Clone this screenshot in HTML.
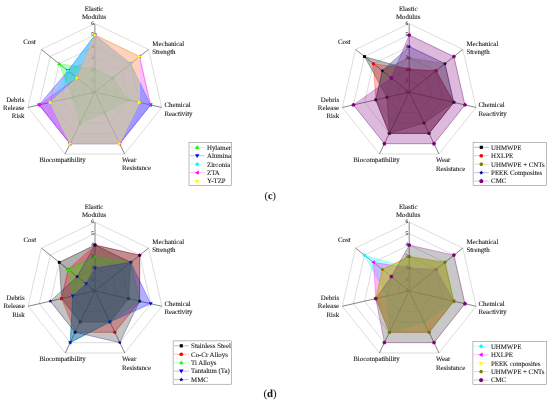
<!DOCTYPE html>
<html><head><meta charset="utf-8"><title>Radar charts</title>
<style>
html,body{margin:0;padding:0;background:#fff;}
svg{display:block;}
svg text{font-family:"Liberation Serif",serif;font-size:6.85px;fill:#161616;stroke:#161616;stroke-width:0.08px;text-rendering:geometricPrecision;}
</style></head><body>
<svg width="550" height="402" viewBox="0 0 550 402">
<rect width="550" height="402" fill="#fff"/>
<polygon points="94.85,80.77 103.79,85.07 106.00,94.74 99.81,102.50 89.89,102.50 83.70,94.74 85.91,85.07" fill="none" stroke="#a8a8a8" stroke-width="0.4"/>
<polygon points="94.85,69.33 112.73,77.94 117.14,97.29 104.77,112.80 84.93,112.80 72.56,97.29 76.97,77.94" fill="none" stroke="#a8a8a8" stroke-width="0.4"/>
<polygon points="94.85,57.90 121.67,70.81 128.29,99.83 109.73,123.10 79.97,123.10 61.41,99.83 68.03,70.81" fill="none" stroke="#a8a8a8" stroke-width="0.4"/>
<polygon points="94.85,46.47 130.61,63.69 139.44,102.38 114.69,133.40 75.01,133.40 50.26,102.38 59.09,63.69" fill="none" stroke="#a8a8a8" stroke-width="0.4"/>
<polygon points="94.85,35.03 139.54,56.56 150.58,104.92 119.65,143.71 70.05,143.71 39.12,104.92 50.16,56.56" fill="none" stroke="#a8a8a8" stroke-width="0.4"/>
<polygon points="94.85,23.60 148.48,49.43 161.73,107.46 124.61,154.01 65.09,154.01 27.97,107.46 41.22,49.43" fill="none" stroke="#a8a8a8" stroke-width="0.4"/>
<line x1="94.85" y1="92.20" x2="94.85" y2="23.60" stroke="#2a2a2a" stroke-width="0.56"/>
<line x1="94.85" y1="92.20" x2="148.48" y2="49.43" stroke="#2a2a2a" stroke-width="0.56"/>
<line x1="94.85" y1="92.20" x2="161.73" y2="107.46" stroke="#2a2a2a" stroke-width="0.56"/>
<line x1="94.85" y1="92.20" x2="124.61" y2="154.01" stroke="#2a2a2a" stroke-width="0.56"/>
<line x1="94.85" y1="92.20" x2="65.09" y2="154.01" stroke="#2a2a2a" stroke-width="0.56"/>
<line x1="94.85" y1="92.20" x2="27.97" y2="107.46" stroke="#2a2a2a" stroke-width="0.56"/>
<line x1="94.85" y1="92.20" x2="41.22" y2="49.43" stroke="#2a2a2a" stroke-width="0.56"/>
<text x="93.75" y="93.50" style="font-size:5.2px;fill:#222;stroke:#222;stroke-width:0.1px" text-anchor="end">0</text>
<text x="93.75" y="82.07" style="font-size:5.2px;fill:#222;stroke:#222;stroke-width:0.1px" text-anchor="end">1</text>
<text x="93.75" y="70.63" style="font-size:5.2px;fill:#222;stroke:#222;stroke-width:0.1px" text-anchor="end">2</text>
<text x="93.75" y="59.20" style="font-size:5.2px;fill:#222;stroke:#222;stroke-width:0.1px" text-anchor="end">3</text>
<text x="93.75" y="47.77" style="font-size:5.2px;fill:#222;stroke:#222;stroke-width:0.1px" text-anchor="end">4</text>
<text x="93.75" y="36.33" style="font-size:5.2px;fill:#222;stroke:#222;stroke-width:0.1px" text-anchor="end">5</text>
<text x="93.75" y="24.90" style="font-size:5.2px;fill:#222;stroke:#222;stroke-width:0.1px" text-anchor="end">6</text>
<polygon points="94.85,69.33 112.73,77.94 128.29,99.83 104.77,112.80 79.97,123.10 72.56,97.29 59.09,63.69" fill="#00ff00" fill-opacity="0.27" stroke="#00ff00" stroke-width="0.38" stroke-opacity="0.8" stroke-linejoin="round"/>
<polygon points="94.85,67.23 96.85,70.77 92.85,70.77" fill="#00ff00"/>
<polygon points="112.73,75.84 114.73,79.38 110.73,79.38" fill="#00ff00"/>
<polygon points="128.29,97.73 130.29,101.27 126.29,101.27" fill="#00ff00"/>
<polygon points="104.77,110.70 106.77,114.24 102.77,114.24" fill="#00ff00"/>
<polygon points="79.97,121.00 81.97,124.54 77.97,124.54" fill="#00ff00"/>
<polygon points="72.56,95.19 74.56,98.73 70.56,98.73" fill="#00ff00"/>
<polygon points="59.09,61.59 61.09,65.13 57.09,65.13" fill="#00ff00"/>
<polygon points="94.85,35.03 130.61,63.69 150.58,104.92 119.65,143.71 70.05,143.71 39.12,104.92 68.03,70.81" fill="#0000ff" fill-opacity="0.27" stroke="#0000ff" stroke-width="0.38" stroke-opacity="0.8" stroke-linejoin="round"/>
<polygon points="94.85,37.13 96.85,33.59 92.85,33.59" fill="#0000ff"/>
<polygon points="130.61,65.79 132.61,62.25 128.61,62.25" fill="#0000ff"/>
<polygon points="150.58,107.02 152.58,103.48 148.58,103.48" fill="#0000ff"/>
<polygon points="119.65,145.81 121.65,142.27 117.65,142.27" fill="#0000ff"/>
<polygon points="70.05,145.81 72.05,142.27 68.05,142.27" fill="#0000ff"/>
<polygon points="39.12,107.02 41.12,103.48 37.12,103.48" fill="#0000ff"/>
<polygon points="68.03,72.91 70.03,69.37 66.03,69.37" fill="#0000ff"/>
<polygon points="94.85,35.03 130.61,63.69 150.58,104.92 119.65,143.71 70.05,143.71 50.26,102.38 68.03,70.81" fill="#00ffff" fill-opacity="0.32" stroke="#00ffff" stroke-width="0.38" stroke-opacity="0.8" stroke-linejoin="round"/>
<polygon points="94.85,33.03 96.85,35.03 94.85,37.03 92.85,35.03" fill="#00ffff"/>
<polygon points="130.61,61.69 132.61,63.69 130.61,65.69 128.61,63.69" fill="#00ffff"/>
<polygon points="150.58,102.92 152.58,104.92 150.58,106.92 148.58,104.92" fill="#00ffff"/>
<polygon points="119.65,141.71 121.65,143.71 119.65,145.71 117.65,143.71" fill="#00ffff"/>
<polygon points="70.05,141.71 72.05,143.71 70.05,145.71 68.05,143.71" fill="#00ffff"/>
<polygon points="50.26,100.38 52.26,102.38 50.26,104.38 48.26,102.38" fill="#00ffff"/>
<polygon points="68.03,68.81 70.03,70.81 68.03,72.81 66.03,70.81" fill="#00ffff"/>
<polygon points="94.85,35.03 139.54,56.56 150.58,104.92 119.65,143.71 70.05,143.71 39.12,104.92 76.97,77.94" fill="#ff00ff" fill-opacity="0.27" stroke="#ff00ff" stroke-width="0.38" stroke-opacity="0.8" stroke-linejoin="round"/>
<polygon points="92.75,35.03 96.29,33.03 96.29,37.03" fill="#ff00ff"/>
<polygon points="137.44,56.56 140.98,54.56 140.98,58.56" fill="#ff00ff"/>
<polygon points="148.48,104.92 152.02,102.92 152.02,106.92" fill="#ff00ff"/>
<polygon points="117.55,143.71 121.09,141.71 121.09,145.71" fill="#ff00ff"/>
<polygon points="67.95,143.71 71.49,141.71 71.49,145.71" fill="#ff00ff"/>
<polygon points="37.02,104.92 40.56,102.92 40.56,106.92" fill="#ff00ff"/>
<polygon points="74.87,77.94 78.41,75.94 78.41,79.94" fill="#ff00ff"/>
<polygon points="94.85,35.03 139.54,56.56 139.44,102.38 119.65,143.71 70.05,143.71 50.26,102.38 76.97,77.94" fill="#fff262" fill-opacity="0.44" stroke="#ffff00" stroke-width="0.38" stroke-opacity="0.8" stroke-linejoin="round"/>
<polygon points="96.95,35.03 93.41,33.03 93.41,37.03" fill="#ffff00"/>
<polygon points="141.64,56.56 138.10,54.56 138.10,58.56" fill="#ffff00"/>
<polygon points="141.54,102.38 138.00,100.38 138.00,104.38" fill="#ffff00"/>
<polygon points="121.75,143.71 118.21,141.71 118.21,145.71" fill="#ffff00"/>
<polygon points="72.15,143.71 68.61,141.71 68.61,145.71" fill="#ffff00"/>
<polygon points="52.36,102.38 48.82,100.38 48.82,104.38" fill="#ffff00"/>
<polygon points="79.07,77.94 75.53,75.94 75.53,79.94" fill="#ffff00"/>
<text x="94.10" y="10.80" text-anchor="middle">Elastic</text>
<text x="94.10" y="19.10" text-anchor="middle">Modulus</text>
<text x="152.30" y="45.50" text-anchor="start">Mechanical</text>
<text x="152.30" y="53.80" text-anchor="start">Strength</text>
<text x="164.40" y="107.20" text-anchor="start">Chemical</text>
<text x="164.40" y="115.50" text-anchor="start">Reactivity</text>
<text x="121.90" y="161.90" text-anchor="start">Wear</text>
<text x="121.90" y="170.40" text-anchor="start">Resistance</text>
<text x="39.20" y="161.80" text-anchor="start">Biocompatibility</text>
<text x="24.40" y="101.60" text-anchor="end">Debris</text>
<text x="24.40" y="109.90" text-anchor="end">Release</text>
<text x="24.40" y="118.20" text-anchor="end">Risk</text>
<text x="23.20" y="43.70" text-anchor="start">Cost</text>
<rect x="189.00" y="142.40" width="42.60" height="43.30" fill="#fff" stroke="#777" stroke-width="0.5"/>
<line x1="189.90" y1="147.30" x2="204.60" y2="147.30" stroke="#00ff00" stroke-width="0.5" stroke-opacity="0.5"/>
<polygon points="197.20,144.99 199.40,148.88 195.00,148.88" fill="#00ff00"/>
<text x="207.00" y="149.60">Hylamer</text>
<line x1="189.90" y1="155.75" x2="204.60" y2="155.75" stroke="#0000ff" stroke-width="0.5" stroke-opacity="0.5"/>
<polygon points="197.20,158.06 199.40,154.17 195.00,154.17" fill="#0000ff"/>
<text x="207.00" y="158.05">Alumina</text>
<line x1="189.90" y1="164.20" x2="204.60" y2="164.20" stroke="#00ffff" stroke-width="0.5" stroke-opacity="0.5"/>
<polygon points="197.20,162.00 199.40,164.20 197.20,166.40 195.00,164.20" fill="#00ffff"/>
<text x="207.00" y="166.50">Zirconia</text>
<line x1="189.90" y1="172.65" x2="204.60" y2="172.65" stroke="#ff00ff" stroke-width="0.5" stroke-opacity="0.5"/>
<polygon points="194.89,172.65 198.78,170.45 198.78,174.85" fill="#ff00ff"/>
<text x="207.00" y="174.95">ZTA</text>
<line x1="189.90" y1="181.10" x2="204.60" y2="181.10" stroke="#ffff00" stroke-width="0.5" stroke-opacity="0.5"/>
<polygon points="199.51,181.10 195.62,178.90 195.62,183.30" fill="#ffff00"/>
<text x="207.00" y="183.40">Y-TZP</text>
<polygon points="409.20,80.77 418.14,85.07 420.35,94.74 414.16,102.50 404.24,102.50 398.05,94.74 400.26,85.07" fill="none" stroke="#a8a8a8" stroke-width="0.4"/>
<polygon points="409.20,69.33 427.08,77.94 431.49,97.29 419.12,112.80 399.28,112.80 386.91,97.29 391.32,77.94" fill="none" stroke="#a8a8a8" stroke-width="0.4"/>
<polygon points="409.20,57.90 436.02,70.81 442.64,99.83 424.08,123.10 394.32,123.10 375.76,99.83 382.38,70.81" fill="none" stroke="#a8a8a8" stroke-width="0.4"/>
<polygon points="409.20,46.47 444.96,63.69 453.79,102.38 429.04,133.40 389.36,133.40 364.61,102.38 373.44,63.69" fill="none" stroke="#a8a8a8" stroke-width="0.4"/>
<polygon points="409.20,35.03 453.89,56.56 464.93,104.92 434.00,143.71 384.40,143.71 353.47,104.92 364.51,56.56" fill="none" stroke="#a8a8a8" stroke-width="0.4"/>
<polygon points="409.20,23.60 462.83,49.43 476.08,107.46 438.96,154.01 379.44,154.01 342.32,107.46 355.57,49.43" fill="none" stroke="#a8a8a8" stroke-width="0.4"/>
<line x1="409.20" y1="92.20" x2="409.20" y2="23.60" stroke="#2a2a2a" stroke-width="0.56"/>
<line x1="409.20" y1="92.20" x2="462.83" y2="49.43" stroke="#2a2a2a" stroke-width="0.56"/>
<line x1="409.20" y1="92.20" x2="476.08" y2="107.46" stroke="#2a2a2a" stroke-width="0.56"/>
<line x1="409.20" y1="92.20" x2="438.96" y2="154.01" stroke="#2a2a2a" stroke-width="0.56"/>
<line x1="409.20" y1="92.20" x2="379.44" y2="154.01" stroke="#2a2a2a" stroke-width="0.56"/>
<line x1="409.20" y1="92.20" x2="342.32" y2="107.46" stroke="#2a2a2a" stroke-width="0.56"/>
<line x1="409.20" y1="92.20" x2="355.57" y2="49.43" stroke="#2a2a2a" stroke-width="0.56"/>
<text x="408.10" y="93.50" style="font-size:5.2px;fill:#222;stroke:#222;stroke-width:0.1px" text-anchor="end">0</text>
<text x="408.10" y="82.07" style="font-size:5.2px;fill:#222;stroke:#222;stroke-width:0.1px" text-anchor="end">1</text>
<text x="408.10" y="70.63" style="font-size:5.2px;fill:#222;stroke:#222;stroke-width:0.1px" text-anchor="end">2</text>
<text x="408.10" y="59.20" style="font-size:5.2px;fill:#222;stroke:#222;stroke-width:0.1px" text-anchor="end">3</text>
<text x="408.10" y="47.77" style="font-size:5.2px;fill:#222;stroke:#222;stroke-width:0.1px" text-anchor="end">4</text>
<text x="408.10" y="36.33" style="font-size:5.2px;fill:#222;stroke:#222;stroke-width:0.1px" text-anchor="end">5</text>
<text x="408.10" y="24.90" style="font-size:5.2px;fill:#222;stroke:#222;stroke-width:0.1px" text-anchor="end">6</text>
<polygon points="409.20,69.33 436.02,70.81 453.79,102.38 424.08,123.10 389.36,133.40 386.91,97.29 364.51,56.56" fill="#000000" fill-opacity="0.27" stroke="#000000" stroke-width="0.38" stroke-opacity="0.8" stroke-linejoin="round"/>
<rect x="407.76" y="67.89" width="2.88" height="2.88" fill="#000000"/>
<rect x="434.58" y="69.37" width="2.88" height="2.88" fill="#000000"/>
<rect x="452.35" y="100.94" width="2.88" height="2.88" fill="#000000"/>
<rect x="422.64" y="121.66" width="2.88" height="2.88" fill="#000000"/>
<rect x="387.92" y="131.96" width="2.88" height="2.88" fill="#000000"/>
<rect x="385.47" y="95.85" width="2.88" height="2.88" fill="#000000"/>
<rect x="363.07" y="55.12" width="2.88" height="2.88" fill="#000000"/>
<polygon points="409.20,69.33 436.02,70.81 453.79,102.38 429.04,133.40 389.36,133.40 375.76,99.83 373.44,63.69" fill="#ff0000" fill-opacity="0.27" stroke="#ff0000" stroke-width="0.38" stroke-opacity="0.8" stroke-linejoin="round"/>
<circle cx="409.20" cy="69.33" r="1.70" fill="#ff0000"/>
<circle cx="436.02" cy="70.81" r="1.70" fill="#ff0000"/>
<circle cx="453.79" cy="102.38" r="1.70" fill="#ff0000"/>
<circle cx="429.04" cy="133.40" r="1.70" fill="#ff0000"/>
<circle cx="389.36" cy="133.40" r="1.70" fill="#ff0000"/>
<circle cx="375.76" cy="99.83" r="1.70" fill="#ff0000"/>
<circle cx="373.44" cy="63.69" r="1.70" fill="#ff0000"/>
<polygon points="409.20,57.90 444.96,63.69 453.79,102.38 429.04,133.40 389.36,133.40 375.76,99.83 382.38,70.81" fill="#808000" fill-opacity="0.27" stroke="#808000" stroke-width="0.38" stroke-opacity="0.8" stroke-linejoin="round"/>
<polygon points="410.96,57.90 410.08,59.42 408.32,59.42 407.44,57.90 408.32,56.38 410.08,56.38" fill="#808000"/>
<polygon points="446.72,63.69 445.84,65.21 444.08,65.21 443.20,63.69 444.08,62.16 445.84,62.16" fill="#808000"/>
<polygon points="455.55,102.38 454.67,103.90 452.91,103.90 452.03,102.38 452.91,100.85 454.67,100.85" fill="#808000"/>
<polygon points="430.80,133.40 429.92,134.93 428.16,134.93 427.28,133.40 428.16,131.88 429.92,131.88" fill="#808000"/>
<polygon points="391.12,133.40 390.24,134.93 388.48,134.93 387.60,133.40 388.48,131.88 390.24,131.88" fill="#808000"/>
<polygon points="377.52,99.83 376.64,101.36 374.88,101.36 374.00,99.83 374.88,98.31 376.64,98.31" fill="#808000"/>
<polygon points="384.14,70.81 383.26,72.34 381.50,72.34 380.62,70.81 381.50,69.29 383.26,69.29" fill="#808000"/>
<polygon points="409.20,46.47 444.96,63.69 453.79,102.38 429.04,133.40 389.36,133.40 375.76,99.83 382.38,70.81" fill="#000080" fill-opacity="0.27" stroke="#000080" stroke-width="0.38" stroke-opacity="0.8" stroke-linejoin="round"/>
<polygon points="409.20,44.51 409.76,45.69 411.06,45.86 410.11,46.76 410.35,48.05 409.20,47.43 408.05,48.05 408.29,46.76 407.34,45.86 408.64,45.69" fill="#000080"/>
<polygon points="444.96,61.73 445.52,62.91 446.82,63.08 445.87,63.98 446.11,65.27 444.96,64.65 443.80,65.27 444.04,63.98 443.09,63.08 444.39,62.91" fill="#000080"/>
<polygon points="453.79,100.42 454.35,101.60 455.65,101.77 454.70,102.67 454.94,103.96 453.79,103.34 452.63,103.96 452.87,102.67 451.92,101.77 453.22,101.60" fill="#000080"/>
<polygon points="429.04,131.44 429.61,132.63 430.91,132.80 429.96,133.70 430.20,134.99 429.04,134.36 427.89,134.99 428.13,133.70 427.18,132.80 428.48,132.63" fill="#000080"/>
<polygon points="389.36,131.44 389.92,132.63 391.22,132.80 390.27,133.70 390.51,134.99 389.36,134.36 388.20,134.99 388.44,133.70 387.49,132.80 388.79,132.63" fill="#000080"/>
<polygon points="375.76,97.87 376.32,99.06 377.62,99.23 376.67,100.13 376.91,101.42 375.76,100.79 374.61,101.42 374.85,100.13 373.90,99.23 375.20,99.06" fill="#000080"/>
<polygon points="382.38,68.85 382.95,70.04 384.25,70.21 383.30,71.11 383.54,72.40 382.38,71.77 381.23,72.40 381.47,71.11 380.52,70.21 381.82,70.04" fill="#000080"/>
<polygon points="409.20,35.03 453.89,56.56 464.93,104.92 434.00,143.71 384.40,143.71 353.47,104.92 391.32,77.94" fill="#800080" fill-opacity="0.27" stroke="#800080" stroke-width="0.38" stroke-opacity="0.8" stroke-linejoin="round"/>
<polygon points="409.20,32.93 411.20,34.38 410.43,36.73 407.97,36.73 407.20,34.38" fill="#800080"/>
<polygon points="453.89,54.46 455.89,55.91 455.13,58.26 452.66,58.26 451.90,55.91" fill="#800080"/>
<polygon points="464.93,102.82 466.93,104.27 466.17,106.62 463.70,106.62 462.94,104.27" fill="#800080"/>
<polygon points="434.00,141.61 436.00,143.06 435.24,145.40 432.77,145.40 432.01,143.06" fill="#800080"/>
<polygon points="384.40,141.61 386.39,143.06 385.63,145.40 383.16,145.40 382.40,143.06" fill="#800080"/>
<polygon points="353.47,102.82 355.46,104.27 354.70,106.62 352.23,106.62 351.47,104.27" fill="#800080"/>
<polygon points="391.32,75.84 393.32,77.29 392.56,79.64 390.09,79.64 389.32,77.29" fill="#800080"/>
<text x="408.20" y="10.80" text-anchor="middle">Elastic</text>
<text x="408.20" y="19.10" text-anchor="middle">Modulus</text>
<text x="466.40" y="45.50" text-anchor="start">Mechanical</text>
<text x="466.40" y="53.80" text-anchor="start">Strength</text>
<text x="478.50" y="107.20" text-anchor="start">Chemical</text>
<text x="478.50" y="115.50" text-anchor="start">Reactivity</text>
<text x="436.00" y="162.40" text-anchor="start">Wear</text>
<text x="436.00" y="170.90" text-anchor="start">Resistance</text>
<text x="353.30" y="162.30" text-anchor="start">Biocompatibility</text>
<text x="339.10" y="101.60" text-anchor="end">Debris</text>
<text x="339.10" y="109.90" text-anchor="end">Release</text>
<text x="339.10" y="118.20" text-anchor="end">Risk</text>
<text x="337.90" y="43.70" text-anchor="start">Cost</text>
<rect x="473.10" y="142.40" width="73.60" height="43.30" fill="#fff" stroke="#777" stroke-width="0.5"/>
<line x1="474.00" y1="147.30" x2="488.70" y2="147.30" stroke="#000000" stroke-width="0.5" stroke-opacity="0.5"/>
<rect x="479.72" y="145.72" width="3.17" height="3.17" fill="#000000"/>
<text x="491.10" y="149.60">UHMWPE</text>
<line x1="474.00" y1="155.75" x2="488.70" y2="155.75" stroke="#ff0000" stroke-width="0.5" stroke-opacity="0.5"/>
<circle cx="481.30" cy="155.75" r="1.87" fill="#ff0000"/>
<text x="491.10" y="158.05">HXLPE</text>
<line x1="474.00" y1="164.20" x2="488.70" y2="164.20" stroke="#808000" stroke-width="0.5" stroke-opacity="0.5"/>
<polygon points="483.24,164.20 482.27,165.88 480.33,165.88 479.36,164.20 480.33,162.52 482.27,162.52" fill="#808000"/>
<text x="491.10" y="166.50">UHMWPE + CNTs</text>
<line x1="474.00" y1="172.65" x2="488.70" y2="172.65" stroke="#000080" stroke-width="0.5" stroke-opacity="0.5"/>
<polygon points="481.30,170.49 481.92,171.80 483.35,171.98 482.30,172.98 482.57,174.39 481.30,173.71 480.03,174.39 480.30,172.98 479.25,171.98 480.68,171.80" fill="#000080"/>
<text x="491.10" y="174.95">PEEK Composites</text>
<line x1="474.00" y1="181.10" x2="488.70" y2="181.10" stroke="#800080" stroke-width="0.5" stroke-opacity="0.5"/>
<polygon points="481.30,178.79 483.50,180.39 482.66,182.97 479.94,182.97 479.10,180.39" fill="#800080"/>
<text x="491.10" y="183.40">CMC</text>
<polygon points="95.00,279.47 103.94,283.80 106.15,293.50 99.96,301.29 90.04,301.29 83.85,293.50 86.06,283.80" fill="none" stroke="#a8a8a8" stroke-width="0.4"/>
<polygon points="95.00,268.00 112.88,276.64 117.29,296.06 104.92,311.63 85.08,311.63 72.71,296.06 77.12,276.64" fill="none" stroke="#a8a8a8" stroke-width="0.4"/>
<polygon points="95.00,256.52 121.82,269.49 128.44,298.61 109.88,321.97 80.12,321.97 61.56,298.61 68.18,269.49" fill="none" stroke="#a8a8a8" stroke-width="0.4"/>
<polygon points="95.00,245.05 130.76,262.33 139.59,301.16 114.84,332.31 75.16,332.31 50.41,301.16 59.24,262.33" fill="none" stroke="#a8a8a8" stroke-width="0.4"/>
<polygon points="95.00,233.57 139.69,255.18 150.73,303.72 119.80,342.65 70.20,342.65 39.27,303.72 50.31,255.18" fill="none" stroke="#a8a8a8" stroke-width="0.4"/>
<polygon points="95.00,222.10 148.63,248.02 161.88,306.27 124.76,352.99 65.24,352.99 28.12,306.27 41.37,248.02" fill="none" stroke="#a8a8a8" stroke-width="0.4"/>
<line x1="95.00" y1="290.95" x2="95.00" y2="222.10" stroke="#2a2a2a" stroke-width="0.56"/>
<line x1="95.00" y1="290.95" x2="148.63" y2="248.02" stroke="#2a2a2a" stroke-width="0.56"/>
<line x1="95.00" y1="290.95" x2="161.88" y2="306.27" stroke="#2a2a2a" stroke-width="0.56"/>
<line x1="95.00" y1="290.95" x2="124.76" y2="352.99" stroke="#2a2a2a" stroke-width="0.56"/>
<line x1="95.00" y1="290.95" x2="65.24" y2="352.99" stroke="#2a2a2a" stroke-width="0.56"/>
<line x1="95.00" y1="290.95" x2="28.12" y2="306.27" stroke="#2a2a2a" stroke-width="0.56"/>
<line x1="95.00" y1="290.95" x2="41.37" y2="248.02" stroke="#2a2a2a" stroke-width="0.56"/>
<text x="93.90" y="292.25" style="font-size:5.2px;fill:#222;stroke:#222;stroke-width:0.1px" text-anchor="end">0</text>
<text x="93.90" y="280.77" style="font-size:5.2px;fill:#222;stroke:#222;stroke-width:0.1px" text-anchor="end">1</text>
<text x="93.90" y="269.30" style="font-size:5.2px;fill:#222;stroke:#222;stroke-width:0.1px" text-anchor="end">2</text>
<text x="93.90" y="257.82" style="font-size:5.2px;fill:#222;stroke:#222;stroke-width:0.1px" text-anchor="end">3</text>
<text x="93.90" y="246.35" style="font-size:5.2px;fill:#222;stroke:#222;stroke-width:0.1px" text-anchor="end">4</text>
<text x="93.90" y="234.87" style="font-size:5.2px;fill:#222;stroke:#222;stroke-width:0.1px" text-anchor="end">5</text>
<text x="93.90" y="223.40" style="font-size:5.2px;fill:#222;stroke:#222;stroke-width:0.1px" text-anchor="end">6</text>
<polygon points="95.00,245.05 130.76,262.33 128.44,298.61 109.88,321.97 80.12,321.97 61.56,298.61 59.24,262.33" fill="#000000" fill-opacity="0.31" stroke="#000000" stroke-width="0.38" stroke-opacity="0.8" stroke-linejoin="round"/>
<rect x="93.56" y="243.61" width="2.88" height="2.88" fill="#000000"/>
<rect x="129.32" y="260.89" width="2.88" height="2.88" fill="#000000"/>
<rect x="127.00" y="297.17" width="2.88" height="2.88" fill="#000000"/>
<rect x="108.44" y="320.53" width="2.88" height="2.88" fill="#000000"/>
<rect x="78.68" y="320.53" width="2.88" height="2.88" fill="#000000"/>
<rect x="60.12" y="297.17" width="2.88" height="2.88" fill="#000000"/>
<rect x="57.80" y="260.89" width="2.88" height="2.88" fill="#000000"/>
<polygon points="95.00,245.05 139.69,255.18 139.59,301.16 114.84,332.31 75.16,332.31 61.56,298.61 68.18,269.49" fill="#ff0000" fill-opacity="0.31" stroke="#ff0000" stroke-width="0.38" stroke-opacity="0.8" stroke-linejoin="round"/>
<circle cx="95.00" cy="245.05" r="1.70" fill="#ff0000"/>
<circle cx="139.69" cy="255.18" r="1.70" fill="#ff0000"/>
<circle cx="139.59" cy="301.16" r="1.70" fill="#ff0000"/>
<circle cx="114.84" cy="332.31" r="1.70" fill="#ff0000"/>
<circle cx="75.16" cy="332.31" r="1.70" fill="#ff0000"/>
<circle cx="61.56" cy="298.61" r="1.70" fill="#ff0000"/>
<circle cx="68.18" cy="269.49" r="1.70" fill="#ff0000"/>
<polygon points="95.00,256.52 130.76,262.33 139.59,301.16 109.88,321.97 70.20,342.65 72.71,296.06 68.18,269.49" fill="#00ff00" fill-opacity="0.31" stroke="#00ff00" stroke-width="0.38" stroke-opacity="0.8" stroke-linejoin="round"/>
<polygon points="95.00,254.42 97.00,257.96 93.00,257.96" fill="#00ff00"/>
<polygon points="130.76,260.23 132.76,263.77 128.76,263.77" fill="#00ff00"/>
<polygon points="139.59,299.06 141.59,302.60 137.59,302.60" fill="#00ff00"/>
<polygon points="109.88,319.87 111.88,323.41 107.88,323.41" fill="#00ff00"/>
<polygon points="70.20,340.55 72.20,344.09 68.20,344.09" fill="#00ff00"/>
<polygon points="72.71,293.96 74.71,297.50 70.71,297.50" fill="#00ff00"/>
<polygon points="68.18,267.39 70.18,270.93 66.18,270.93" fill="#00ff00"/>
<polygon points="95.00,268.00 130.76,262.33 150.73,303.72 109.88,321.97 70.20,342.65 72.71,296.06 86.06,283.80" fill="#0000ff" fill-opacity="0.31" stroke="#0000ff" stroke-width="0.38" stroke-opacity="0.8" stroke-linejoin="round"/>
<polygon points="95.00,270.10 97.00,266.56 93.00,266.56" fill="#0000ff"/>
<polygon points="130.76,264.43 132.76,260.89 128.76,260.89" fill="#0000ff"/>
<polygon points="150.73,305.82 152.73,302.28 148.73,302.28" fill="#0000ff"/>
<polygon points="109.88,324.07 111.88,320.53 107.88,320.53" fill="#0000ff"/>
<polygon points="70.20,344.75 72.20,341.21 68.20,341.21" fill="#0000ff"/>
<polygon points="72.71,298.16 74.71,294.62 70.71,294.62" fill="#0000ff"/>
<polygon points="86.06,285.90 88.06,282.36 84.06,282.36" fill="#0000ff"/>
<polygon points="95.00,245.05 139.69,255.18 139.59,301.16 119.80,342.65 75.16,332.31 50.41,301.16 77.12,276.64" fill="#404040" fill-opacity="0.31" stroke="#000080" stroke-width="0.38" stroke-opacity="0.8" stroke-linejoin="round"/>
<polygon points="95.00,243.09 95.56,244.27 96.86,244.44 95.91,245.34 96.15,246.63 95.00,246.01 93.85,246.63 94.09,245.34 93.14,244.44 94.44,244.27" fill="#000080"/>
<polygon points="139.69,253.22 140.26,254.40 141.56,254.57 140.61,255.47 140.85,256.76 139.69,256.14 138.54,256.76 138.78,255.47 137.83,254.57 139.13,254.40" fill="#000080"/>
<polygon points="139.59,299.20 140.15,300.39 141.45,300.56 140.50,301.46 140.74,302.75 139.59,302.12 138.43,302.75 138.67,301.46 137.72,300.56 139.02,300.39" fill="#000080"/>
<polygon points="119.80,340.69 120.37,341.87 121.67,342.04 120.72,342.94 120.96,344.23 119.80,343.61 118.65,344.23 118.89,342.94 117.94,342.04 119.24,341.87" fill="#000080"/>
<polygon points="75.16,330.35 75.72,331.53 77.02,331.70 76.07,332.60 76.31,333.89 75.16,333.27 74.00,333.89 74.24,332.60 73.29,331.70 74.59,331.53" fill="#000080"/>
<polygon points="50.41,299.20 50.98,300.39 52.28,300.56 51.33,301.46 51.57,302.75 50.41,302.12 49.26,302.75 49.50,301.46 48.55,300.56 49.85,300.39" fill="#000080"/>
<polygon points="77.12,274.68 77.69,275.86 78.99,276.03 78.04,276.94 78.27,278.23 77.12,277.60 75.97,278.23 76.21,276.94 75.26,276.03 76.56,275.86" fill="#000080"/>
<text x="94.10" y="209.30" text-anchor="middle">Elastic</text>
<text x="94.10" y="217.20" text-anchor="middle">Modulus</text>
<text x="152.30" y="244.00" text-anchor="start">Mechanical</text>
<text x="152.30" y="252.30" text-anchor="start">Strength</text>
<text x="164.40" y="305.70" text-anchor="start">Chemical</text>
<text x="164.40" y="314.00" text-anchor="start">Reactivity</text>
<text x="121.90" y="361.10" text-anchor="start">Wear</text>
<text x="121.90" y="369.60" text-anchor="start">Resistance</text>
<text x="39.20" y="361.00" text-anchor="start">Biocompatibility</text>
<text x="24.70" y="300.10" text-anchor="end">Debris</text>
<text x="24.70" y="308.40" text-anchor="end">Release</text>
<text x="24.70" y="316.70" text-anchor="end">Risk</text>
<text x="23.50" y="242.20" text-anchor="start">Cost</text>
<rect x="173.10" y="340.90" width="58.40" height="43.30" fill="#fff" stroke="#777" stroke-width="0.5"/>
<line x1="174.00" y1="345.80" x2="188.70" y2="345.80" stroke="#000000" stroke-width="0.5" stroke-opacity="0.5"/>
<rect x="179.72" y="344.22" width="3.17" height="3.17" fill="#000000"/>
<text x="191.10" y="348.10">Stainless Steel</text>
<line x1="174.00" y1="354.25" x2="188.70" y2="354.25" stroke="#ff0000" stroke-width="0.5" stroke-opacity="0.5"/>
<circle cx="181.30" cy="354.25" r="1.87" fill="#ff0000"/>
<text x="191.10" y="356.55">Co-Cr Alloys</text>
<line x1="174.00" y1="362.70" x2="188.70" y2="362.70" stroke="#00ff00" stroke-width="0.5" stroke-opacity="0.5"/>
<polygon points="181.30,360.39 183.50,364.28 179.10,364.28" fill="#00ff00"/>
<text x="191.10" y="365.00">Ti Alloys</text>
<line x1="174.00" y1="371.15" x2="188.70" y2="371.15" stroke="#0000ff" stroke-width="0.5" stroke-opacity="0.5"/>
<polygon points="181.30,373.46 183.50,369.57 179.10,369.57" fill="#0000ff"/>
<text x="191.10" y="373.45">Tantalum (Ta)</text>
<line x1="174.00" y1="379.60" x2="188.70" y2="379.60" stroke="#000080" stroke-width="0.5" stroke-opacity="0.5"/>
<polygon points="181.30,377.44 181.92,378.75 183.35,378.93 182.30,379.93 182.57,381.34 181.30,380.66 180.03,381.34 180.30,379.93 179.25,378.93 180.68,378.75" fill="#000080"/>
<text x="191.10" y="381.90">MMC</text>
<polygon points="409.20,279.47 418.14,283.80 420.35,293.50 414.16,301.29 404.24,301.29 398.05,293.50 400.26,283.80" fill="none" stroke="#a8a8a8" stroke-width="0.4"/>
<polygon points="409.20,268.00 427.08,276.64 431.49,296.06 419.12,311.63 399.28,311.63 386.91,296.06 391.32,276.64" fill="none" stroke="#a8a8a8" stroke-width="0.4"/>
<polygon points="409.20,256.52 436.02,269.49 442.64,298.61 424.08,321.97 394.32,321.97 375.76,298.61 382.38,269.49" fill="none" stroke="#a8a8a8" stroke-width="0.4"/>
<polygon points="409.20,245.05 444.96,262.33 453.79,301.16 429.04,332.31 389.36,332.31 364.61,301.16 373.44,262.33" fill="none" stroke="#a8a8a8" stroke-width="0.4"/>
<polygon points="409.20,233.57 453.89,255.18 464.93,303.72 434.00,342.65 384.40,342.65 353.47,303.72 364.51,255.18" fill="none" stroke="#a8a8a8" stroke-width="0.4"/>
<polygon points="409.20,222.10 462.83,248.02 476.08,306.27 438.96,352.99 379.44,352.99 342.32,306.27 355.57,248.02" fill="none" stroke="#a8a8a8" stroke-width="0.4"/>
<line x1="409.20" y1="290.95" x2="409.20" y2="222.10" stroke="#2a2a2a" stroke-width="0.56"/>
<line x1="409.20" y1="290.95" x2="462.83" y2="248.02" stroke="#2a2a2a" stroke-width="0.56"/>
<line x1="409.20" y1="290.95" x2="476.08" y2="306.27" stroke="#2a2a2a" stroke-width="0.56"/>
<line x1="409.20" y1="290.95" x2="438.96" y2="352.99" stroke="#2a2a2a" stroke-width="0.56"/>
<line x1="409.20" y1="290.95" x2="379.44" y2="352.99" stroke="#2a2a2a" stroke-width="0.56"/>
<line x1="409.20" y1="290.95" x2="342.32" y2="306.27" stroke="#2a2a2a" stroke-width="0.56"/>
<line x1="409.20" y1="290.95" x2="355.57" y2="248.02" stroke="#2a2a2a" stroke-width="0.56"/>
<text x="408.10" y="292.25" style="font-size:5.2px;fill:#222;stroke:#222;stroke-width:0.1px" text-anchor="end">0</text>
<text x="408.10" y="280.77" style="font-size:5.2px;fill:#222;stroke:#222;stroke-width:0.1px" text-anchor="end">1</text>
<text x="408.10" y="269.30" style="font-size:5.2px;fill:#222;stroke:#222;stroke-width:0.1px" text-anchor="end">2</text>
<text x="408.10" y="257.82" style="font-size:5.2px;fill:#222;stroke:#222;stroke-width:0.1px" text-anchor="end">3</text>
<text x="408.10" y="246.35" style="font-size:5.2px;fill:#222;stroke:#222;stroke-width:0.1px" text-anchor="end">4</text>
<text x="408.10" y="234.87" style="font-size:5.2px;fill:#222;stroke:#222;stroke-width:0.1px" text-anchor="end">5</text>
<text x="408.10" y="223.40" style="font-size:5.2px;fill:#222;stroke:#222;stroke-width:0.1px" text-anchor="end">6</text>
<polygon points="409.20,268.00 436.02,269.49 453.79,301.16 424.08,321.97 389.36,332.31 386.91,296.06 364.51,255.18" fill="#00ffff" fill-opacity="0.29" stroke="#00ffff" stroke-width="0.38" stroke-opacity="0.8" stroke-linejoin="round"/>
<polygon points="409.20,266.00 411.20,268.00 409.20,270.00 407.20,268.00" fill="#00ffff"/>
<polygon points="436.02,267.49 438.02,269.49 436.02,271.49 434.02,269.49" fill="#00ffff"/>
<polygon points="453.79,299.16 455.79,301.16 453.79,303.16 451.79,301.16" fill="#00ffff"/>
<polygon points="424.08,319.97 426.08,321.97 424.08,323.97 422.08,321.97" fill="#00ffff"/>
<polygon points="389.36,330.31 391.36,332.31 389.36,334.31 387.36,332.31" fill="#00ffff"/>
<polygon points="386.91,294.06 388.91,296.06 386.91,298.06 384.91,296.06" fill="#00ffff"/>
<polygon points="364.51,253.18 366.51,255.18 364.51,257.18 362.51,255.18" fill="#00ffff"/>
<polygon points="409.20,268.00 436.02,269.49 453.79,301.16 429.04,332.31 389.36,332.31 375.76,298.61 373.44,262.33" fill="#ff00ff" fill-opacity="0.29" stroke="#ff00ff" stroke-width="0.38" stroke-opacity="0.8" stroke-linejoin="round"/>
<polygon points="407.10,268.00 410.64,266.00 410.64,270.00" fill="#ff00ff"/>
<polygon points="433.92,269.49 437.46,267.49 437.46,271.49" fill="#ff00ff"/>
<polygon points="451.69,301.16 455.23,299.16 455.23,303.16" fill="#ff00ff"/>
<polygon points="426.94,332.31 430.48,330.31 430.48,334.31" fill="#ff00ff"/>
<polygon points="387.26,332.31 390.80,330.31 390.80,334.31" fill="#ff00ff"/>
<polygon points="373.66,298.61 377.20,296.61 377.20,300.61" fill="#ff00ff"/>
<polygon points="371.34,262.33 374.88,260.33 374.88,264.33" fill="#ff00ff"/>
<polygon points="409.20,256.52 444.96,262.33 453.79,301.16 429.04,332.31 389.36,332.31 375.76,298.61 382.38,269.49" fill="#ffff00" fill-opacity="0.38" stroke="#ffff00" stroke-width="0.38" stroke-opacity="0.8" stroke-linejoin="round"/>
<polygon points="411.30,256.52 407.76,254.52 407.76,258.52" fill="#ffff00"/>
<polygon points="447.06,262.33 443.52,260.33 443.52,264.33" fill="#ffff00"/>
<polygon points="455.89,301.16 452.35,299.16 452.35,303.16" fill="#ffff00"/>
<polygon points="431.14,332.31 427.60,330.31 427.60,334.31" fill="#ffff00"/>
<polygon points="391.46,332.31 387.92,330.31 387.92,334.31" fill="#ffff00"/>
<polygon points="377.86,298.61 374.32,296.61 374.32,300.61" fill="#ffff00"/>
<polygon points="384.48,269.49 380.94,267.49 380.94,271.49" fill="#ffff00"/>
<polygon points="409.20,256.52 444.96,262.33 453.79,301.16 429.04,332.31 389.36,332.31 375.76,298.61 382.38,269.49" fill="#808000" fill-opacity="0.29" stroke="#808000" stroke-width="0.38" stroke-opacity="0.8" stroke-linejoin="round"/>
<polygon points="410.96,256.52 410.08,258.05 408.32,258.05 407.44,256.52 408.32,255.00 410.08,255.00" fill="#808000"/>
<polygon points="446.72,262.33 445.84,263.85 444.08,263.85 443.20,262.33 444.08,260.81 445.84,260.81" fill="#808000"/>
<polygon points="455.55,301.16 454.67,302.69 452.91,302.69 452.03,301.16 452.91,299.64 454.67,299.64" fill="#808000"/>
<polygon points="430.80,332.31 429.92,333.83 428.16,333.83 427.28,332.31 428.16,330.78 429.92,330.78" fill="#808000"/>
<polygon points="391.12,332.31 390.24,333.83 388.48,333.83 387.60,332.31 388.48,330.78 390.24,330.78" fill="#808000"/>
<polygon points="377.52,298.61 376.64,300.13 374.88,300.13 374.00,298.61 374.88,297.09 376.64,297.09" fill="#808000"/>
<polygon points="384.14,269.49 383.26,271.01 381.50,271.01 380.62,269.49 381.50,267.96 383.26,267.96" fill="#808000"/>
<polygon points="409.20,245.05 453.89,255.18 464.93,303.72 434.00,342.65 384.40,342.65 375.76,298.61 391.32,276.64" fill="#404040" fill-opacity="0.29" stroke="#800080" stroke-width="0.38" stroke-opacity="0.8" stroke-linejoin="round"/>
<polygon points="409.20,242.95 411.20,244.40 410.43,246.75 407.97,246.75 407.20,244.40" fill="#800080"/>
<polygon points="453.89,253.08 455.89,254.53 455.13,256.87 452.66,256.87 451.90,254.53" fill="#800080"/>
<polygon points="464.93,301.62 466.93,303.07 466.17,305.42 463.70,305.42 462.94,303.07" fill="#800080"/>
<polygon points="434.00,340.55 436.00,342.00 435.24,344.34 432.77,344.34 432.01,342.00" fill="#800080"/>
<polygon points="384.40,340.55 386.39,342.00 385.63,344.34 383.16,344.34 382.40,342.00" fill="#800080"/>
<polygon points="375.76,296.51 377.76,297.96 376.99,300.31 374.53,300.31 373.76,297.96" fill="#800080"/>
<polygon points="391.32,274.54 393.32,275.99 392.56,278.34 390.09,278.34 389.32,275.99" fill="#800080"/>
<text x="408.20" y="209.30" text-anchor="middle">Elastic</text>
<text x="408.20" y="217.20" text-anchor="middle">Modulus</text>
<text x="466.40" y="244.00" text-anchor="start">Mechanical</text>
<text x="466.40" y="252.30" text-anchor="start">Strength</text>
<text x="478.50" y="305.70" text-anchor="start">Chemical</text>
<text x="478.50" y="314.00" text-anchor="start">Reactivity</text>
<text x="436.00" y="361.10" text-anchor="start">Wear</text>
<text x="436.00" y="369.60" text-anchor="start">Resistance</text>
<text x="353.30" y="361.00" text-anchor="start">Biocompatibility</text>
<text x="339.10" y="300.10" text-anchor="end">Debris</text>
<text x="339.10" y="308.40" text-anchor="end">Release</text>
<text x="339.10" y="316.70" text-anchor="end">Risk</text>
<text x="337.90" y="242.20" text-anchor="start">Cost</text>
<rect x="472.90" y="341.40" width="73.60" height="42.90" fill="#fff" stroke="#777" stroke-width="0.5"/>
<line x1="473.80" y1="346.30" x2="488.50" y2="346.30" stroke="#00ffff" stroke-width="0.5" stroke-opacity="0.5"/>
<polygon points="481.10,344.10 483.30,346.30 481.10,348.50 478.90,346.30" fill="#00ffff"/>
<text x="490.90" y="348.60">UHMWPE</text>
<line x1="473.80" y1="354.75" x2="488.50" y2="354.75" stroke="#ff00ff" stroke-width="0.5" stroke-opacity="0.5"/>
<polygon points="478.79,354.75 482.68,352.55 482.68,356.95" fill="#ff00ff"/>
<text x="490.90" y="357.05">HXLPE</text>
<line x1="473.80" y1="363.20" x2="488.50" y2="363.20" stroke="#ffff00" stroke-width="0.5" stroke-opacity="0.5"/>
<polygon points="483.41,363.20 479.52,361.00 479.52,365.40" fill="#ffff00"/>
<text x="490.90" y="365.50">PEEK composites</text>
<line x1="473.80" y1="371.65" x2="488.50" y2="371.65" stroke="#808000" stroke-width="0.5" stroke-opacity="0.5"/>
<polygon points="483.04,371.65 482.07,373.33 480.13,373.33 479.16,371.65 480.13,369.97 482.07,369.97" fill="#808000"/>
<text x="490.90" y="373.95">UHMWPE + CNTs</text>
<line x1="473.80" y1="380.10" x2="488.50" y2="380.10" stroke="#800080" stroke-width="0.5" stroke-opacity="0.5"/>
<polygon points="481.10,377.79 483.30,379.39 482.46,381.97 479.74,381.97 478.90,379.39" fill="#800080"/>
<text x="490.90" y="382.40">CMC</text>
<text x="264.6" y="198.9" style="font-size:10.2px">(<tspan font-weight="bold">c</tspan>)</text>
<text x="263.5" y="396.7" style="font-size:10.7px">(<tspan font-weight="bold">d</tspan>)</text>
</svg>
</body></html>
